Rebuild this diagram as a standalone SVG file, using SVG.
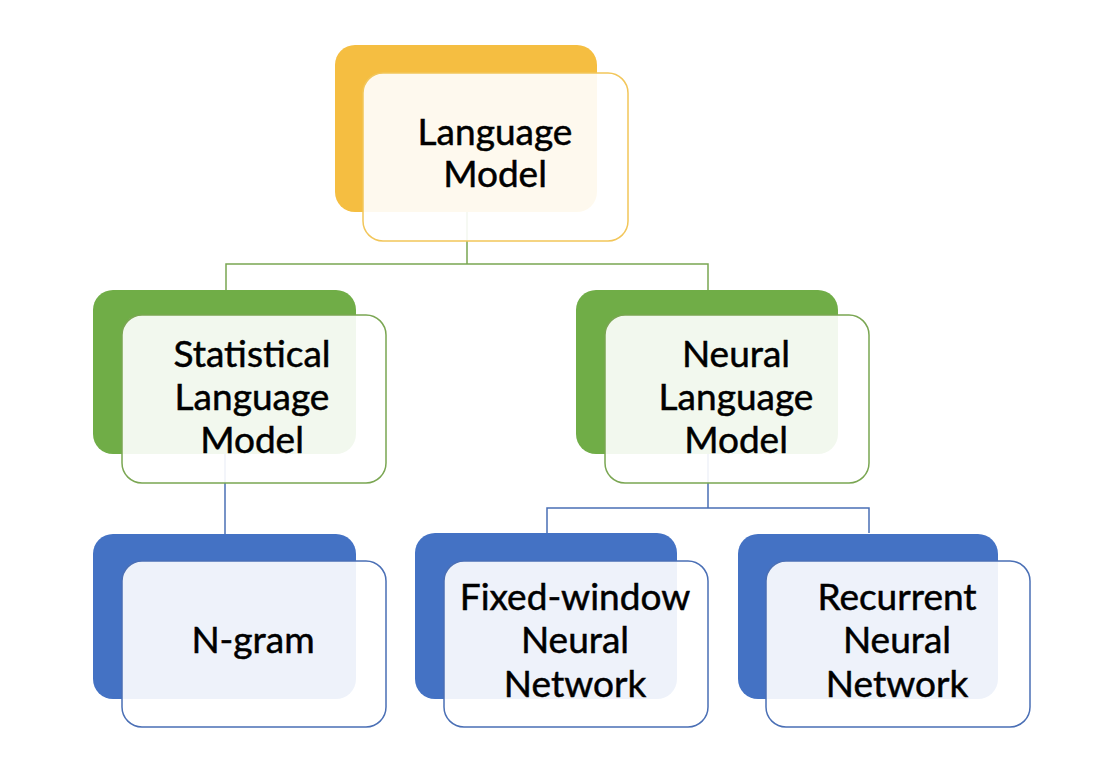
<svg xmlns="http://www.w3.org/2000/svg" width="1100" height="773" viewBox="0 0 1100 773">
<style>
.bg{stroke:none}
.front{fill:#ffffff;fill-opacity:0.91;stroke-width:1.5}
.t{font-family:Lato,"Open Sans","Liberation Sans",sans-serif;font-size:37px;fill:#000;stroke:#000;stroke-width:0.5;text-anchor:middle}
.gold .bg{fill:#F5BE41}.gold .front{stroke:#F2C65A}
.green .bg{fill:#70AD47}.green .front{stroke:#7AA652}
.blue .bg{fill:#4472C4}.blue .front{stroke:#4A6FB5}
.cg{fill:none;stroke:#7AA652;stroke-width:1.5}
.cb{fill:none;stroke:#4A6FB5;stroke-width:1.5}
</style>
<rect width="1100" height="773" fill="#ffffff"/>
<g id="connectors">
<path class="cg" d="M467,212 V264 M226,290 V264 H708 V290"/>
<path class="cb" d="M225,454 V534"/>
<path class="cb" d="M708,454 V508 M547,533 V508 H869 V533"/>
</g>
<g id="language-model" class="gold">
<rect class="bg" x="335" y="45" width="262" height="167" rx="20"/>
<rect class="front" x="363" y="73" width="265" height="168" rx="20"/>
<text class="t" x="495" y="145">Language</text>
<text class="t" x="495" y="187">Model</text>
</g>
<g id="statistical-lm" class="green">
<rect class="bg" x="93" y="290" width="263" height="164" rx="20"/>
<rect class="front" x="122" y="315" width="264" height="168" rx="20"/>
<text class="t" x="252" y="367">Statistical</text>
<text class="t" x="252" y="410">Language</text>
<text class="t" x="252" y="453">Model</text>
</g>
<g id="neural-lm" class="green">
<rect class="bg" x="576" y="290" width="262" height="164" rx="20"/>
<rect class="front" x="605" y="315" width="264" height="168" rx="20"/>
<text class="t" x="736" y="367">Neural</text>
<text class="t" x="736" y="410">Language</text>
<text class="t" x="736" y="453">Model</text>
</g>
<g id="n-gram" class="blue">
<rect class="bg" x="93" y="534" width="263" height="165" rx="20"/>
<rect class="front" x="122" y="561" width="264" height="166" rx="20"/>
<text class="t" x="253" y="653">N-gram</text>
</g>
<g id="fixed-window" class="blue">
<rect class="bg" x="415" y="533" width="262" height="166" rx="20"/>
<rect class="front" x="444" y="561" width="264" height="166" rx="20"/>
<text class="t" x="575" y="610">Fixed-window</text>
<text class="t" x="575" y="653">Neural</text>
<text class="t" x="575" y="697">Network</text>
</g>
<g id="recurrent" class="blue">
<rect class="bg" x="738" y="534" width="260" height="165" rx="20"/>
<rect class="front" x="766" y="561" width="264" height="166" rx="20"/>
<text class="t" x="897" y="610">Recurrent</text>
<text class="t" x="897" y="653">Neural</text>
<text class="t" x="897" y="697">Network</text>
</g>
</svg>
